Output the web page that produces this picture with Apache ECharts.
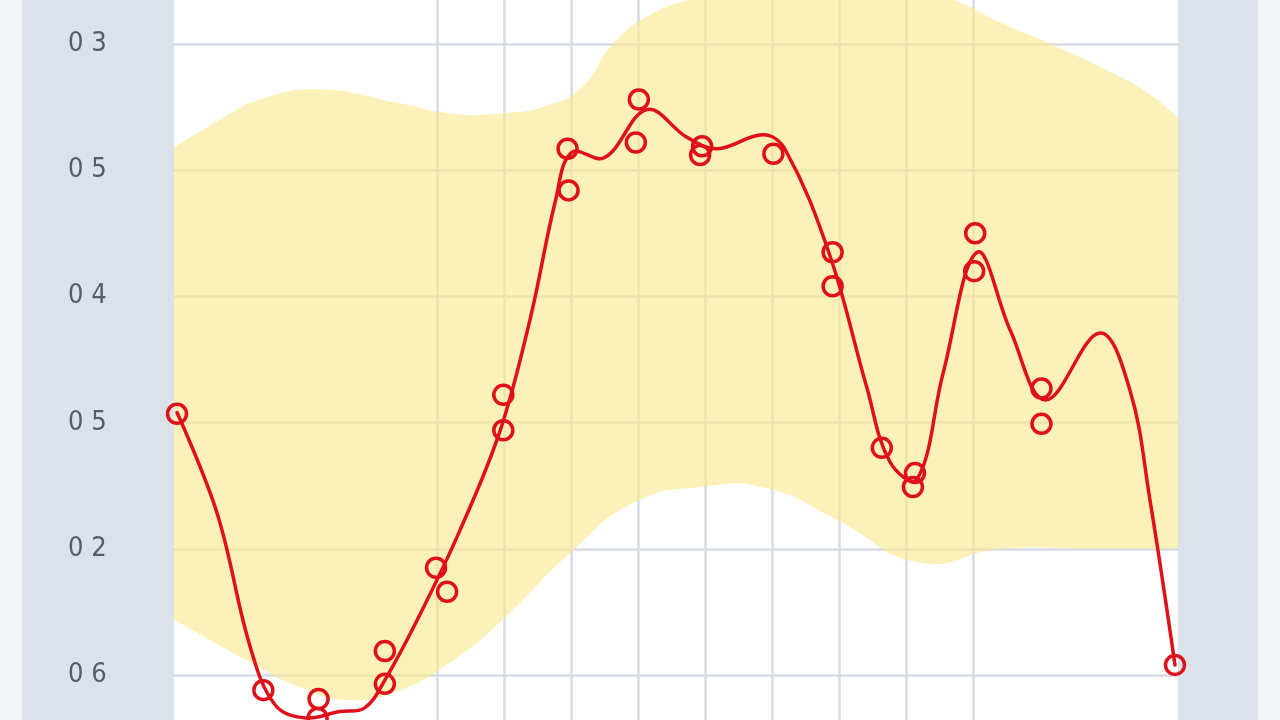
<!DOCTYPE html>
<html>
<head>
<meta charset="utf-8">
<script src="https://cdn.jsdelivr.net/npm/echarts@6/dist/echarts.min.js"></script>
<style>
html,body{margin:0;padding:0;background:#dbe2ea;}
#chart{width:1280px;height:720px;}
</style>
</head>
<body>
<div id="chart"></div>
<script>
// Y tick labels, bottom to top (tick value = index)
const yTickLabels = ["0 6", "0 2", "0 5", "0 4", "0 5", "0 3"];

// Scatter markers (x in 0..100 across plot, y in tick units)
const markerX = [0.3, 8.9, 14.4, 14.3, 21.0, 21.0, 26.1, 27.2, 32.8, 32.8, 39.2, 39.3, 46.3, 46.0, 52.6, 52.4, 59.7, 65.6, 65.6, 70.5, 73.8, 73.6, 79.8, 79.7, 86.4, 86.4, 99.7];
const markerY = [2.07, -0.12, -0.19, -0.34, 0.19, -0.07, 0.85, 0.66, 2.22, 1.94, 4.17, 3.84, 4.56, 4.22, 4.19, 4.12, 4.13, 3.35, 3.08, 1.80, 1.60, 1.49, 3.50, 3.20, 2.27, 1.99, 0.08];

// Smoothed red curve
const curveX = [0.3, 4.3, 7.6, 10.1, 13.1, 16.5, 19.0, 21.0, 24.5, 28.5, 32.5, 35.5, 38.0, 39.6, 42.9, 47.1, 51.1, 54.1, 58.7, 60.9, 65.3, 69.0, 71.3, 74.0, 76.6, 80.0, 83.3, 86.8, 92.2, 95.2, 97.2, 99.7];
const curveY = [2.08, 1.28, 0.22, -0.24, -0.34, -0.29, -0.26, -0.04, 0.48, 1.15, 1.94, 2.83, 3.76, 4.14, 4.10, 4.48, 4.26, 4.17, 4.28, 4.16, 3.33, 2.28, 1.69, 1.55, 2.39, 3.35, 2.73, 2.18, 2.71, 2.26, 1.39, 0.08];

// Yellow band: upper and lower boundaries
const bandTopX = [0, 4.6, 8.6, 14.5, 22.5, 27.5, 32.5, 37.5, 40.9, 43.6, 47.4, 52.4, 62.4, 72.3, 77.6, 82.3, 87.0, 93.5, 97.2, 100];
const bandTopY = [4.18, 4.40, 4.56, 4.64, 4.53, 4.45, 4.45, 4.52, 4.68, 4.99, 5.23, 5.37, 5.55, 5.47, 5.35, 5.17, 5.01, 4.77, 4.60, 4.42];
const bandBottomX = [0, 7.6, 12.6, 17.5, 22.5, 27.5, 32.5, 39.1, 45.7, 52.4, 59.1, 66.0, 74.3, 82.3, 91.2, 100];
const bandBottomY = [0.44, 0.10, -0.10, -0.20, -0.12, 0.10, 0.42, 0.94, 1.36, 1.49, 1.48, 1.23, 0.89, 1.00, 1.00, 1.00];

// Vertical grid line count (ticks 0..8)
const vGridMax = 8;

const RED = '#e0101a';
const chart = echarts.init(document.getElementById('chart'));

function renderBand(params, api) {
  if (params.dataIndex !== 0) return null;
  const top = bandTopX.map((x, i) => api.coord([x, bandTopY[i]]));
  const bottom = bandBottomX.map((x, i) => api.coord([x, bandBottomY[i]])).reverse();
  const pts = [];
  top.forEach((p, i) => { pts.push(p); if (i === 0 || i === top.length - 1) pts.push(p.slice()); });
  bottom.forEach((p, i) => { pts.push(p); if (i === 0 || i === bottom.length - 1) pts.push(p.slice()); });
  const L = api.coord([0, 0])[0], R = api.coord([100, 0])[0];
  return {
    type: 'polygon',
    shape: { points: pts, smooth: 0.5, smoothConstraint: [[L, -400], [R, 1200]] },
    style: { fill: 'rgba(252,231,140,0.6)' }
  };
}

function renderCurve(params, api) {
  if (params.dataIndex !== 0) return null;
  const pts = curveX.map((x, i) => api.coord([x, curveY[i]]));
  return {
    type: 'polyline',
    shape: { points: pts, smooth: 0.38 },
    style: { stroke: RED, lineWidth: 3.5, fill: null, lineJoin: 'round', lineCap: 'round' }
  };
}

chart.setOption({
  backgroundColor: '#dbe2ea',
  animation: false,
  graphic: [
    { type: 'rect', z: -10, shape: { x: 0, y: 0, width: 22, height: 720 }, style: { fill: '#f3f5f7' } },
    { type: 'rect', z: -10, shape: { x: 1258, y: 0, width: 22, height: 720 }, style: { fill: '#f3f5f7' } },
    { type: 'rect', z: -10, shape: { x: 174, y: 0, width: 1004, height: 720 }, style: { fill: '#ffffff' } }
  ],
  grid: [
    { left: 174, right: 102, top: 44, bottom: 45, containLabel: false },
    { left: 437, right: 307, top: 0, bottom: 0, containLabel: false }
  ],
  xAxis: [
    { type: 'value', gridIndex: 0, min: 0, max: 100, show: false },
    { type: 'value', gridIndex: 1, min: 0, max: vGridMax, interval: 1,
      axisLine: { show: false }, axisTick: { show: false }, axisLabel: { show: false },
      splitLine: { show: true, lineStyle: { color: '#d6dce4', width: 2.5 } } }
  ],
  yAxis: [
    { type: 'value', gridIndex: 0, min: 0, max: 5, interval: 1,
      axisLine: { show: false }, axisTick: { show: false },
      axisLabel: { align: 'left', margin: 106, color: '#575d66', fontSize: 27,
        fontFamily: "'Liberation Sans Narrow', 'DejaVu Sans Condensed', sans-serif",
        formatter: v => yTickLabels[Math.round(v)] },
      splitLine: { show: true, lineStyle: { color: '#d6dce4', width: 2.5 } } },
    { type: 'value', gridIndex: 1, min: 0, max: 1, show: false, splitLine: { show: false } }
  ],
  series: [
    { type: 'scatter', xAxisIndex: 1, yAxisIndex: 1, data: [], silent: true },
    { type: 'custom', name: 'band', xAxisIndex: 0, yAxisIndex: 0, clip: false, silent: true, z: 2,
      renderItem: renderBand,
      encode: { x: 0, y: 1 },
      data: bandTopX.map((x, i) => [x, bandTopY[i]]) },
    { type: 'custom', name: 'curve', xAxisIndex: 0, yAxisIndex: 0, clip: false, silent: true, z: 3,
      renderItem: renderCurve,
      encode: { x: 0, y: 1 },
      data: curveX.map((x, i) => [x, curveY[i]]) },
    { type: 'scatter', name: 'points', xAxisIndex: 0, yAxisIndex: 0, clip: false, z: 4,
      symbol: 'circle', symbolSize: 19,
      itemStyle: { color: 'rgba(0,0,0,0)', borderColor: RED, borderWidth: 3.5, opacity: 1 },
      data: markerX.map((x, i) => [x, markerY[i]]) }
  ]
});
</script>
</body>
</html>
